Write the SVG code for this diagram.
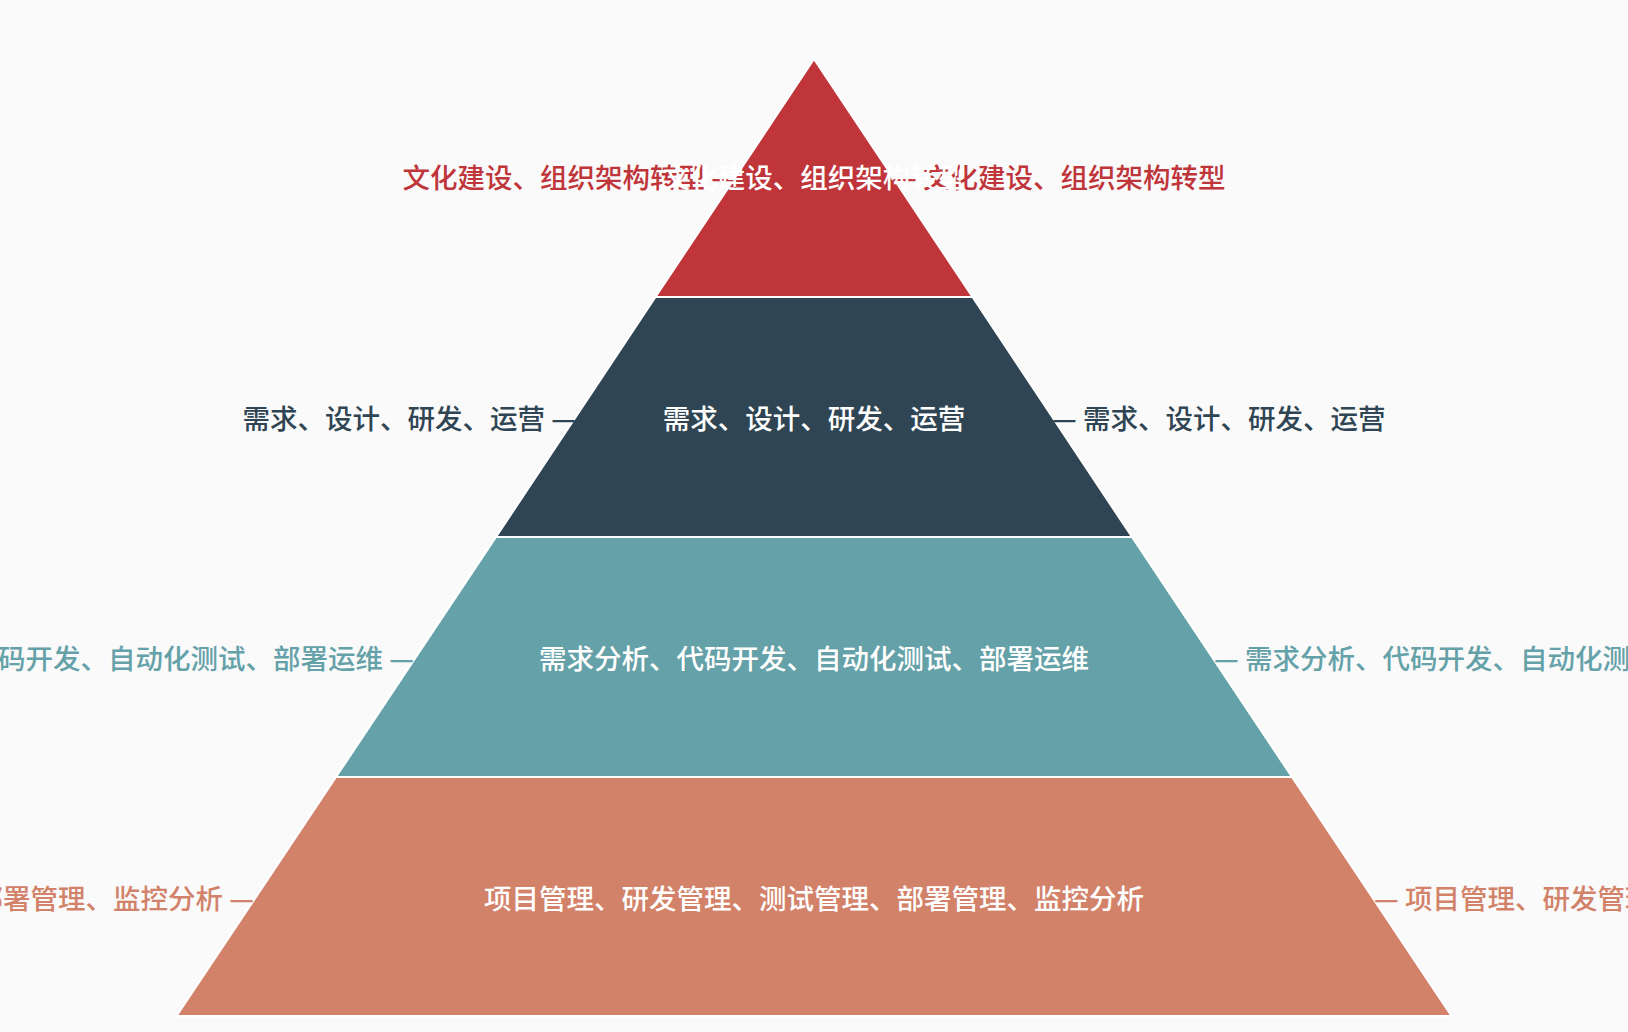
<svg xmlns="http://www.w3.org/2000/svg" width="1628" height="1032" viewBox="0 0 1628 1032">
<style>
text{font-family:"Noto Sans CJK SC","Liberation Sans",sans-serif;font-size:27.5px;font-weight:500;dominant-baseline:central}
.c{fill:#fff;text-anchor:middle}
.l{text-anchor:end}
polygon{stroke:#fff;stroke-width:2}
</style>
<rect width="1628" height="1032" fill="#fafafa"/>
<g id="connectors"></g>
<g id="level1">
<polygon points="814,59 972.5,297 655.5,297" fill="#c0353a"/>
<text class="l" x="736" y="176" fill="#c0353a">文化建设、组织架构转型 —</text>
<text x="892" y="176" fill="#c0353a">— 文化建设、组织架构转型</text>
<text class="c" x="814" y="176">文化建设、组织架构转型</text>
</g>
<g id="level2">
<polygon points="655.5,297 972.5,297 1132,537 496,537" fill="#2f4553"/>
<text class="l" x="576" y="417" fill="#2f4553">需求、设计、研发、运营 —</text>
<text x="1052" y="417" fill="#2f4553">— 需求、设计、研发、运营</text>
<text class="c" x="814" y="417">需求、设计、研发、运营</text>
</g>
<g id="level3">
<polygon points="496,537 1132,537 1292,777 336,777" fill="#65a1a8"/>
<text class="l" x="414" y="657" fill="#65a1a8">需求分析、代码开发、自动化测试、部署运维 —</text>
<text x="1214" y="657" fill="#65a1a8">— 需求分析、代码开发、自动化测试、部署运维</text>
<text class="c" x="814" y="657">需求分析、代码开发、自动化测试、部署运维</text>
</g>
<g id="level4">
<polygon points="336,777 1292,777 1451.5,1016 176.5,1016" fill="#d3826a"/>
<text class="l" x="254" y="897" fill="#d3826a">项目管理、研发管理、测试管理、部署管理、监控分析 —</text>
<text x="1374" y="897" fill="#d3826a">— 项目管理、研发管理、测试管理、部署管理、监控分析</text>
<text class="c" x="814" y="897">项目管理、研发管理、测试管理、部署管理、监控分析</text>
</g>
</svg>
